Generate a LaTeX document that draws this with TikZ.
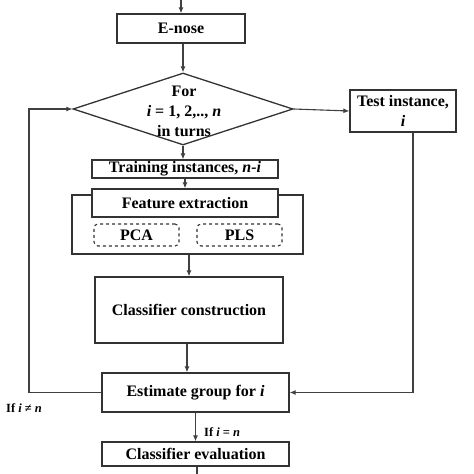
\documentclass[tikz,border=0pt]{standalone}
\usepackage{fontspec}
\setmainfont{Liberation Serif}
\usetikzlibrary{shapes.geometric,arrows.meta}
\begin{document}
\begin{tikzpicture}[x=1pt,y=-1pt,
  every node/.style={font=\fontsize{16}{20}\selectfont\bfseries, inner sep=0pt, align=center},
  box/.style={draw=black!80, line width=1.3pt, fill=white, rectangle},
  dbox/.style={draw=black!80, line width=1.1pt, dashed, rounded corners=4pt, rectangle},
  conn/.style={draw=black!75, line width=1.1pt},
  arr/.style={conn, -{Latex[length=6pt,width=5pt]}},
  lbl/.style={font=\fontsize{12.5}{15}\selectfont\bfseries}]
\useasboundingbox[fill=white] (0,0) rectangle (474,474);
\coordinate (top) at (181,0);
\node[box, minimum width=128pt, minimum height=29pt] (enose) at (181,28.5) {E-nose};
\node[diamond, draw=black!80, line width=1.3pt, minimum width=220pt, minimum height=72pt] (dia) at (183,109) {};
\node at (184,111) {For\\\textit{i} = 1, 2,.., \textit{n}\\in turns};
\node[box, minimum width=106pt, minimum height=42pt] (test) at (403,111) {Test instance,\\\textit{i}};
\node[box, minimum width=186pt, minimum height=18pt] (train) at (185,169) {Training instances, \textit{n-i}};
\node[box, minimum width=231pt, minimum height=59pt] (outer) at (187.5,224.5) {};
\node[box, minimum width=186pt, minimum height=28pt] (feat) at (185,203) {Feature extraction};
\node[dbox, minimum width=85pt, minimum height=22pt] (pca) at (136.5,235) {PCA};
\node[dbox, minimum width=85pt, minimum height=22pt] (pls) at (239.5,235) {PLS};
\node[box, minimum width=188pt, minimum height=66pt] (cc) at (189,310) {Classifier construction};
\node[box, minimum width=187pt, minimum height=39pt] (est) at (195.5,392.5) {Estimate group for \textit{i}};
\node[box, minimum width=187pt, minimum height=24pt] (eval) at (195.5,454) {Classifier evaluation};
\coordinate (bot) at (197,474);
\coordinate (lx) at (29,0);
\node[lbl, anchor=west] (ne) at (6,408) {If \textit{i} ≠ \textit{n}};
\node[lbl, anchor=west] (eq) at (204,432) {If \textit{i} = \textit{n}};
\draw[arr] (top) -- (enose.north -| top);
\draw[arr] (enose.south -| dia.north) -- (dia.north);
\draw[arr] (dia.south) -- (dia.south |- train.north);
\draw[arr] (train.south) -- (feat.north);
\draw[arr] (outer.south -| cc.north) -- (cc.north);
\draw[arr] ([xshift=-2pt]cc.south) -- ([xshift=-2pt]cc.south |- est.north);
\draw[arr] (est.south) -- (eval.north);
\draw[conn] ([xshift=1.5pt]eval.south) -- (bot);
\draw[arr] (dia.east) -- (test.west);
\draw[arr] ([xshift=10pt]test.south) |- (est.east);
\draw[arr] (est.west) -- (est.west -| lx) |- (dia.west);
\end{tikzpicture}
\end{document}
